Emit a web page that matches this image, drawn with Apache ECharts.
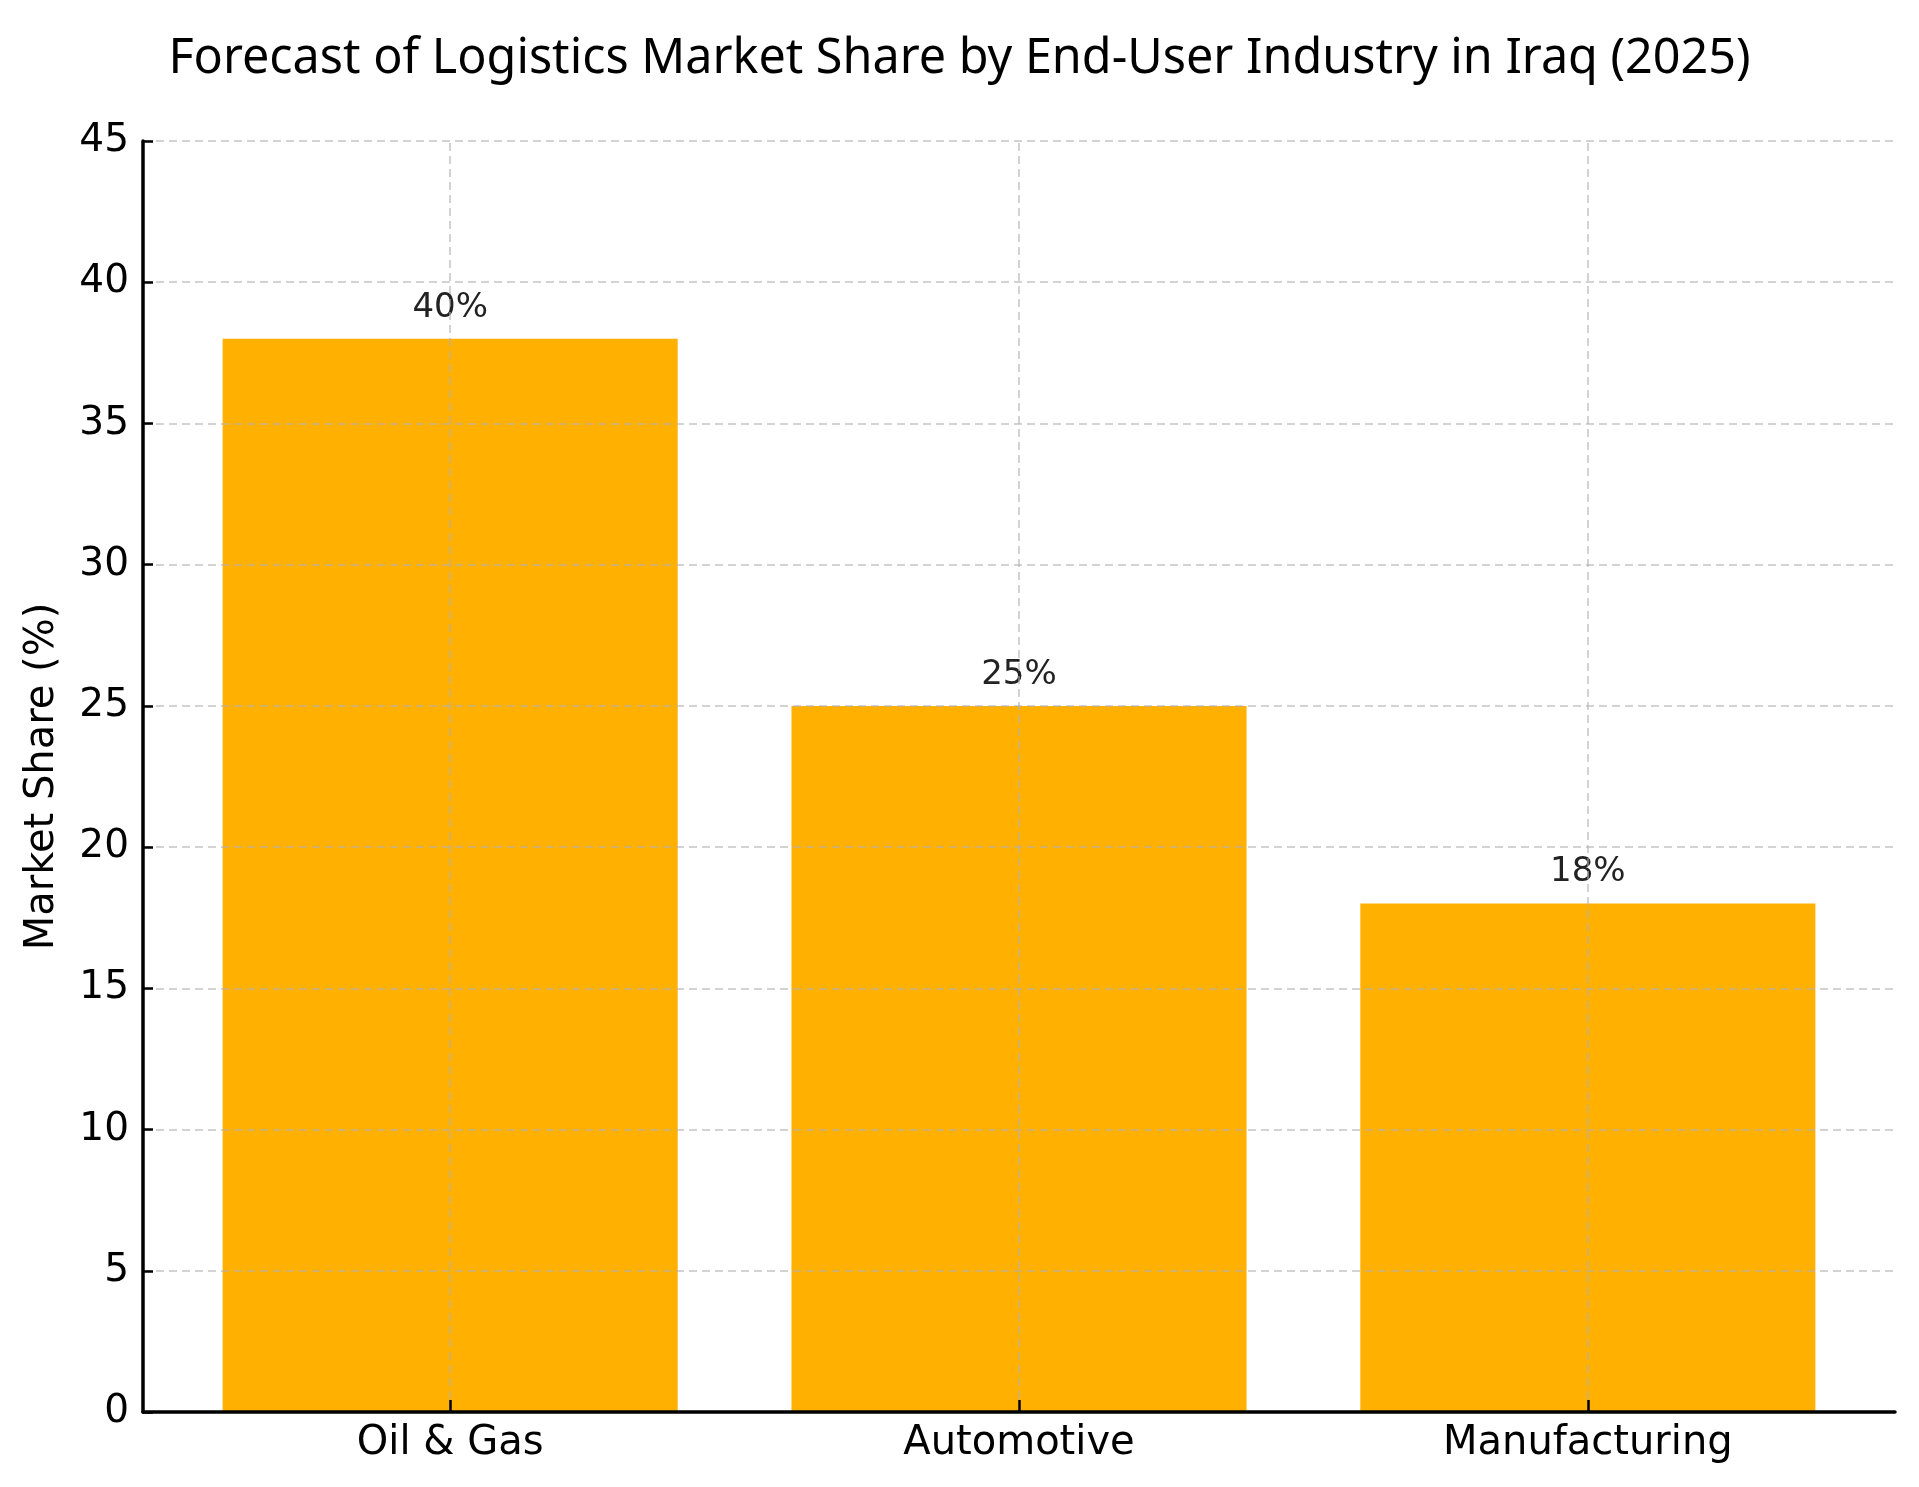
<!DOCTYPE html>
<html>
<head>
<meta charset="utf-8">
<script src="https://cdn.jsdelivr.net/npm/echarts@6/dist/echarts.min.js"></script>
<style>
  html, body { margin: 0; padding: 0; background: #fff; }
  #chart { width: 1919px; height: 1487px; }
</style>
</head>
<body>
<div id="chart"></div>
<script>
// data
const categories = ['Oil & Gas', 'Automotive', 'Manufacturing'];
const shares = [38, 25, 18];
const labelTexts = ['40%', '25%', '18%'];
const positions = [0, 1, 2];
const yTicks = [5, 10, 15, 20, 25, 30, 35, 40, 45];

const gridColor = 'rgba(176,176,176,0.75)';
const gridLine = { color: gridColor, width: 1.5, type: [8, 5] };

let myChart = echarts.init(document.getElementById('chart'));
let option = {
  backgroundColor: '#fff',
  animation: false,
  title: {
    text: 'Forecast of Logistics Market Share by End-User Industry in Iraq (2025)',
    left: 'center',
    top: 30,
    textStyle: { fontFamily: 'Noto Sans', fontSize: 48.5, fontWeight: 'normal', color: '#000' }
  },
  grid: { left: 143, right: 24, top: 141, bottom: 75 },
  xAxis: {
    type: 'value',
    min: -0.54,
    max: 2.54,
    z: 5,
    axisLine: { show: true, onZero: false, lineStyle: { color: '#000', width: 3.5 } },
    axisTick: { show: true, inside: true, length: 12, customValues: positions, lineStyle: { color: '#000', width: 2.5 } },
    axisLabel: {
      customValues: positions,
      formatter: (v) => categories[Math.round(v)],
      fontFamily: 'DejaVu Sans', fontSize: 40, color: '#000', margin: 12
    },
    splitLine: { show: false }
  },
  yAxis: {
    type: 'value',
    min: 0,
    max: 45,
    interval: 5,
    z: 5,
    name: 'Market Share (%)',
    nameLocation: 'middle',
    nameGap: 80,
    nameTextStyle: { fontFamily: 'DejaVu Sans', fontSize: 40, color: '#000' },
    axisLine: { show: true, onZero: false, lineStyle: { color: '#000', width: 3.5 } },
    axisTick: { show: true, inside: true, length: 10, lineStyle: { color: '#000', width: 2.5 } },
    axisLabel: { fontFamily: 'DejaVu Sans', fontSize: 39, color: '#000', margin: 14 },
    splitLine: { show: false }
  },
  series: [{
    type: 'bar',
    data: shares.map((v, i) => [positions[i], v]),
    barWidth: '80%',
    itemStyle: { color: '#FFB000' },
    label: {
      show: true,
      position: 'top',
      distance: 14,
      formatter: (p) => labelTexts[p.dataIndex],
      fontFamily: 'DejaVu Sans', fontSize: 34, color: '#222'
    },
    // grid lines drawn over the bars, as in the reference
    markLine: {
      silent: true,
      symbol: 'none',
      label: { show: false },
      lineStyle: gridLine,
      data: positions.map((p) => ({ xAxis: p })).concat(yTicks.map((t) => ({ yAxis: t })))
    }
  }]
};
myChart.setOption(option);
window.addEventListener('resize', function () {
  myChart.resize();
});
</script>
</body>
</html>
